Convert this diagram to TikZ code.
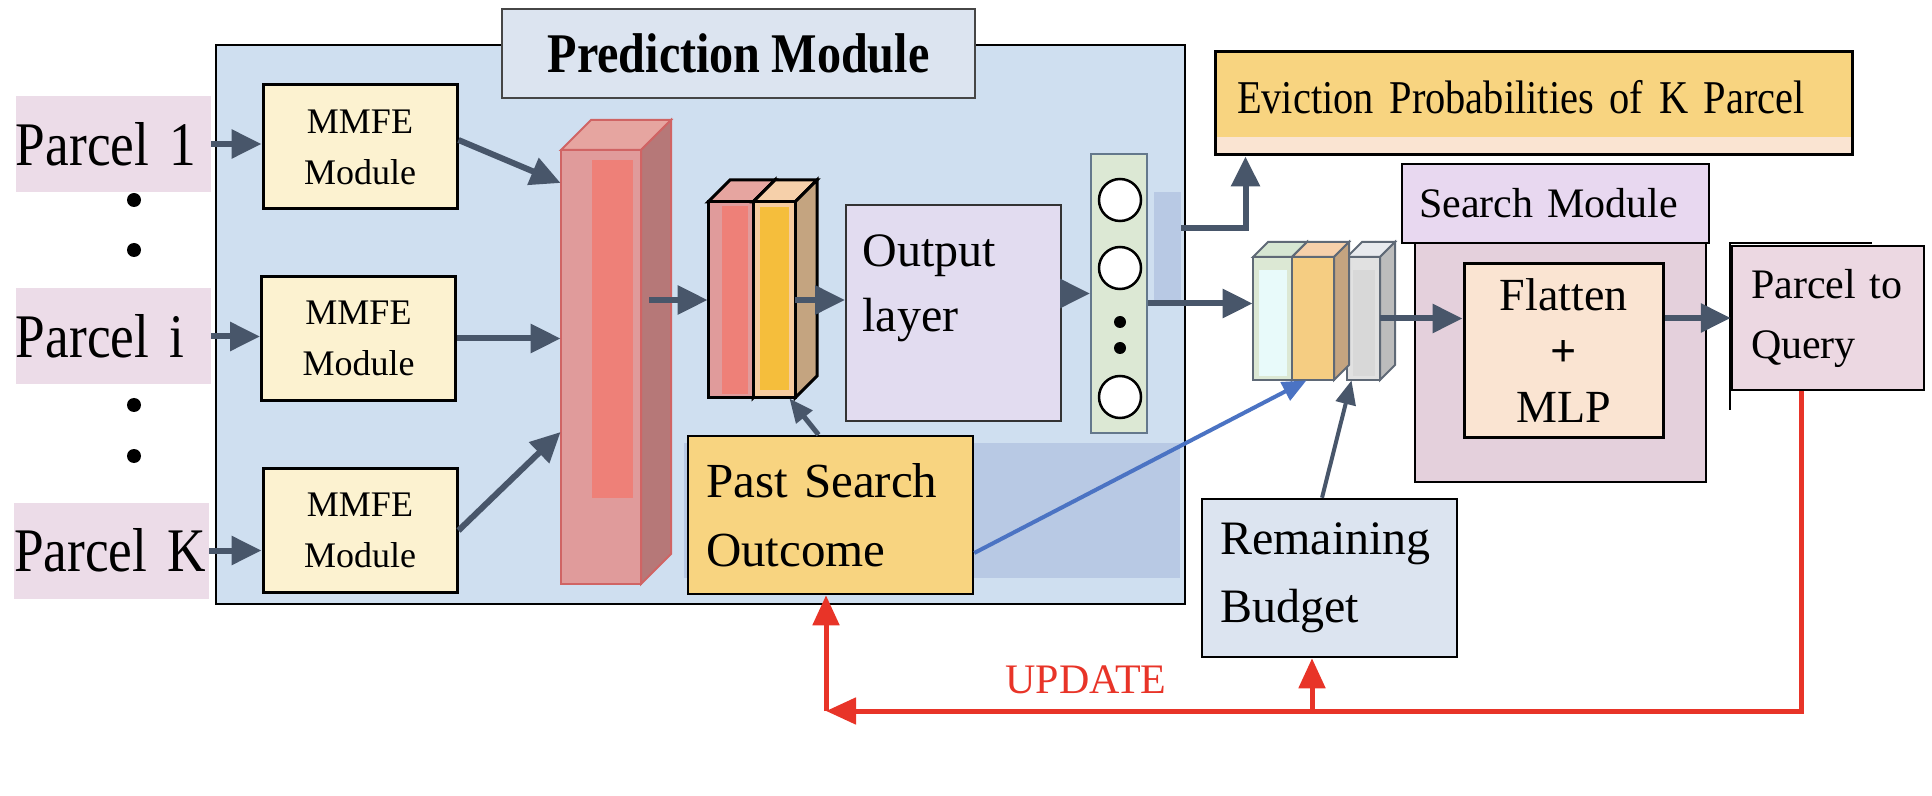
\documentclass[tikz,border=0pt]{standalone}
\usepackage{fontspec}
\setmainfont[WordSpace=0.85]{Liberation Serif}
\newfontfamily\narrowserif[FakeStretch=0.86, WordSpace=0.9]{Liberation Serif}
\usepackage{tikz}
\usetikzlibrary{arrows.meta, positioning}
\definecolor{predblue}{RGB}{207,223,240}
\definecolor{predshade}{RGB}{184,201,228}
\definecolor{titleblue}{RGB}{220,228,240}
\definecolor{titleedge}{RGB}{70,70,70}
\definecolor{parcelpink}{RGB}{236,220,232}
\definecolor{mmfecream}{RGB}{252,242,208}
\definecolor{colfront}{RGB}{224,155,155}
\definecolor{coltop}{RGB}{230,165,160}
\definecolor{colside}{RGB}{182,120,120}
\definecolor{coledge}{RGB}{208,100,100}
\definecolor{colinner}{RGB}{238,128,120}
\definecolor{peachfront}{RGB}{246,204,160}
\definecolor{peachtop}{RGB}{246,208,170}
\definecolor{tanside}{RGB}{196,164,128}
\definecolor{goldinner}{RGB}{245,190,60}
\definecolor{outlav}{RGB}{226,220,240}
\definecolor{neurgreen}{RGB}{220,232,212}
\definecolor{neuredge}{RGB}{100,120,140}
\definecolor{evictgold}{RGB}{248,212,128}
\definecolor{evictstripe}{RGB}{250,228,210}
\definecolor{searchlav}{RGB}{232,216,240}
\definecolor{searchmauve}{RGB}{228,208,220}
\definecolor{flatpeach}{RGB}{250,228,210}
\definecolor{querypink}{RGB}{236,216,226}
\definecolor{stackedge}{RGB}{95,105,118}
\definecolor{minttop}{RGB}{214,230,210}
\definecolor{mintinner}{RGB}{232,250,250}
\definecolor{stackorange}{RGB}{245,205,130}
\definecolor{greyfront}{RGB}{225,225,225}
\definecolor{greyinner}{RGB}{216,216,216}
\definecolor{greytop}{RGB}{232,234,238}
\definecolor{greyside}{RGB}{188,188,188}
\definecolor{arrowgray}{RGB}{72,86,106}
\definecolor{updred}{RGB}{232,52,40}
\definecolor{linkblue}{RGB}{75,115,195}
\tikzset{
	flow/.style={draw=arrowgray, line width=3pt, -{Triangle[length=15pt,width=14pt]}},
	thinflow/.style={draw=arrowgray, line width=2pt, -{Triangle[length=12pt,width=10pt]}},
	bluelink/.style={draw=linkblue, line width=2pt, -{Triangle[length=12pt,width=10pt]}},
	update/.style={draw=updred, line width=2.5pt, -{Triangle[length=15pt,width=13pt]}},
	parcel/.style={fill=parcelpink, minimum height=48pt, text width=97.5pt, inner xsep=0pt, align=left, font=\narrowserif\fontsize{31}{36}\selectfont},
	mmfe/.style={draw=black, line width=1.5pt, fill=mmfecream, minimum width=97pt, minimum height=62pt, align=center, font=\fontsize{18}{25.5}\selectfont},
	lbox/.style={draw=black, line width=1.25pt, inner xsep=9pt, align=left},
	anchorbox/.style={inner sep=0pt, minimum width=#1},
}
\newcommand{\slabbox}[9]{%
	\filldraw[fill=#7, draw=#9] (#1,#2) -- ++(#5,-#5) -- ++({#3-#1},0) -- (#3,#2) -- cycle;
	\filldraw[fill=#8, draw=#9] (#3,#2) -- ++(#5,-#5) -- ++(0,{#4-#2}) -- (#3,#4) -- cycle;
	\filldraw[fill=#6, draw=#9] (#1,#2) rectangle (#3,#4);
}

\begin{document}
\begin{tikzpicture}[x=0.5pt, y=-0.5pt]
	\useasboundingbox (0,0) rectangle (1932,796);

	\node[parcel] (parcel1) at (113.5,144) {Parcel 1};
	\node[parcel] (parceli) at (113.5,336.5) {Parcel i};
	\node[parcel] (parcelK) at (111.5,550.5) {Parcel K};
	\foreach \dy in {200,250,405,456}
		\fill (134,\dy) circle[radius=3.5pt];

	\draw[draw=black, line width=1.25pt, fill=predblue] (216,45) rectangle (1185,604);
	\node[draw=titleedge, line width=1pt, fill=titleblue, minimum width=236.5pt, minimum height=44.5pt, font=\narrowserif\fontsize{28}{32}\selectfont\bfseries] (predtitle) at (738.5,53.5) {Prediction Module};
	\fill[predshade] (684,443) rectangle (1180,578);
	\node[fill=predshade, minimum width=13.5pt, minimum height=54pt, inner sep=0pt] (sliver) at (1167.5,246) {};

	\node[mmfe] (mmfe1) at (360,147) {MMFE\\Module};
	\node[mmfe] (mmfe2) at (358.5,338.5) {MMFE\\Module};
	\node[mmfe] (mmfe3) at (360,530.5) {MMFE\\Module};

	\begin{scope}[line width=1pt]
		\slabbox{561}{150}{641}{584}{30}{colfront}{coltop}{colside}{coledge}
		\fill[colinner] (592,160) rectangle (633,498);
	\end{scope}
	\node[anchorbox=40pt, minimum height=217pt] (column) at (601,367) {};

	\begin{scope}[line width=1.5pt]
		\slabbox{708}{202}{753}{398}{22}{colfront}{coltop}{colside}{black}
		\fill[colinner] (722,206) rectangle (748,394);
		\slabbox{753}{202}{795}{398}{22}{peachfront}{peachtop}{tanside}{black}
		\fill[goldinner] (760,207) rectangle (789,390);
	\end{scope}
	\node[anchorbox=43.5pt, minimum height=98pt] (concat) at (751.5,300) {};

	\node[draw=black!80, line width=1pt, fill=outlav, minimum width=107.5pt, minimum height=108pt] (output) at (953.5,313) {};
	\node[anchor=north west, inner sep=0pt, align=left, font=\fontsize{24}{32.5}\selectfont] (outtext) at ([xshift=8.5pt,yshift=-15pt]output.north west) {Output\\layer};

	\node[draw=neuredge, line width=1pt, fill=neurgreen, minimum width=28pt, minimum height=139.5pt, inner sep=0pt] (neurons) at (1119,293.5) {};
	\foreach \cy in {200,268,397}
		\draw[fill=white, line width=1.25pt] (1120,\cy) circle[radius=10.5pt];
	\foreach \cy in {322,348}
		\fill (1120,\cy) circle[radius=3pt];

	\node[lbox, fill=evictgold, text width=124.5pt, minimum height=79pt, font=\fontsize{24.5}{34.5}\selectfont] (past) at (830.5,515) {Past Search\\Outcome};

	\node[lbox, line width=1.5pt, fill=evictgold, inner xsep=11pt, text width=296.5pt, minimum height=51.5pt, text depth=6.5pt, font=\narrowserif\fontsize{23.5}{27}\selectfont,
		path picture={\fill[evictstripe] (path picture bounding box.south west) rectangle ([yshift=9pt]path picture bounding box.south east);}] (evict) at (1533.5,103.5) {Eviction Probabilities of K Parcel};

	\node[draw=black, line width=1.25pt, fill=searchmauve, minimum width=145.5pt, minimum height=119.5pt] (searchbody) at (1560.5,362.5) {};
	\node[lbox, fill=searchlav, inner xsep=8.5pt, text width=136.5pt, minimum height=39.5pt, font=\fontsize{21}{25}\selectfont] (searchlbl) at (1555.5,203.5) {Search Module};
	\node[draw=black, line width=1.5pt, fill=flatpeach, minimum width=99.5pt, minimum height=86.5pt, align=center, font=\fontsize{23}{28}\selectfont] (flatten) at (1563.5,350.5) {Flatten\\\textbf{+}\\MLP};

	\draw[line width=0.75pt] (1872,243) -- (1730,243) -- (1730,410);
	\node[lbox, fill=querypink, inner xsep=9.5pt, text width=77pt, minimum height=72pt, font=\fontsize{21}{30}\selectfont] (query) at (1828,318) {Parcel to\\Query};

	\node[lbox, fill=titleblue, text width=109.5pt, minimum height=79pt, font=\fontsize{24}{34}\selectfont] (budget) at (1329.5,578) {Remaining\\Budget};

	\begin{scope}[line width=1pt]
		\slabbox{1253}{257}{1292}{380}{15}{neurgreen}{minttop}{neurgreen}{stackedge}
		\fill[mintinner] (1259,270) rectangle (1287,376);
		\slabbox{1347}{257}{1380}{380}{15}{greyfront}{greytop}{greyside}{stackedge}
		\fill[greyinner] (1353,270) rectangle (1375,376);
		\slabbox{1292}{257}{1334}{380}{15}{stackorange}{peachtop}{tanside}{stackedge}
	\end{scope}
	\node[anchorbox=63.5pt, minimum height=61.5pt] (stack) at (1316.5,318.5) {};

	\draw[flow] (parcel1.east) -- (parcel1.east -| mmfe1.west);
	\draw[flow] (parceli.east) -- (parceli.east -| mmfe2.west);
	\draw[flow] (parcelK.east) -- (parcelK.east -| mmfe3.west);
	\draw[flow] ([yshift=3.5pt]mmfe1.east) -- ([yshift=92pt]column.west);
	\draw[flow] (mmfe2.east) -- (mmfe2.east -| column.west);
	\draw[flow] (mmfe3.east) -- ([yshift=-32.5pt]column.west);
	\draw[flow] ([xshift=4pt]column.east |- concat.west) -- (concat.west);
	\draw[flow] (concat.east) -- (concat.east -| output.west);
	\draw[flow] (output.east |- neurons.west) -- (neurons.west);
	\draw[flow] ([yshift=-5pt]neurons.east) -- ([yshift=-5pt]neurons.east -| stack.west);
	\draw[flow] ([yshift=9pt]sliver.east) -| ([xshift=16pt]evict.south west);
	\draw[flow] (stack.east) -- (stack.east -| flatten.west);
	\draw[flow] (flatten.east |- query.west) -- (query.west);
	\draw[thinflow, line width=2.5pt] ([xshift=-6pt]past.north) -- ([xshift=-3pt]concat.south east);
	\draw[bluelink] ([yshift=-19pt]past.east) -- ([xshift=-5pt]stack.south);
	\draw[thinflow] ([xshift=-3.75pt]budget.north) -- ([xshift=17.5pt]stack.south);

	\coordinate (upd) at (826,711);
	\draw[update] ([xshift=-13.5pt]query.south) |- (upd);
	\draw[update] (upd) -- (upd |- past.south);
	\draw[update] ([xshift=-8.75pt]budget.south |- upd) -- ([xshift=-8.75pt]budget.south);
	\node[text=updred, font=\fontsize{21}{25}\selectfont] (updtext) at (1086,680) {UPDATE};
\end{tikzpicture}
\end{document}
